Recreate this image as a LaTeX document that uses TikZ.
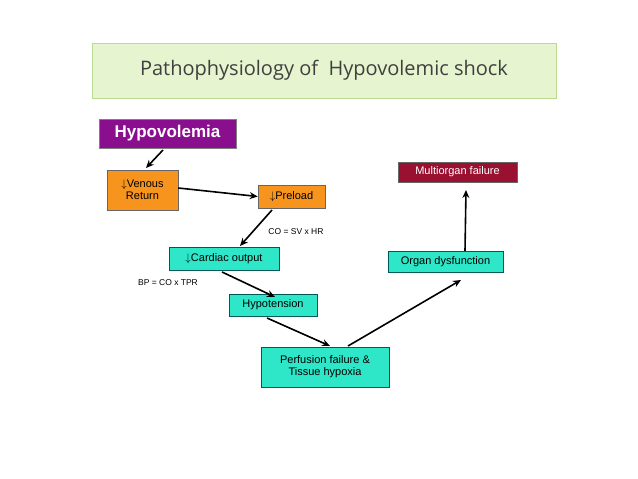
\documentclass[tikz,border=0pt]{standalone}
\usepackage{fontspec}
\setmainfont{Liberation Sans}
\newfontfamily\titlefont{Open Sans}
\usetikzlibrary{arrows.meta}
\definecolor{org}{HTML}{F7941D}
\definecolor{cyn}{HTML}{2EE6C8}
\definecolor{pur}{HTML}{8A0F8E}
\definecolor{mred}{HTML}{9A1030}
\definecolor{tgreen}{HTML}{E6F4CF}
\definecolor{tborder}{HTML}{B9DC8E}
\begin{document}
\begin{tikzpicture}[x=1pt,y=-1pt,
 box/.style={draw=black!60,line width=0.6pt,inner sep=0pt,font=\fontsize{11}{12}\selectfont,align=center},
 obox/.style={box,fill=org},
 cbox/.style={box,fill=cyn,draw=teal!70!black},
 arr/.style={-{Stealth[length=8pt,width=7pt]},line width=1.6pt},
 lbl/.style={font=\fontsize{8.5}{10}\selectfont}]
\useasboundingbox (0,0) rectangle (638,479);
\fill[white] (0,0) rectangle (638,479);
\node[draw=tborder,fill=tgreen,minimum width=464pt,minimum height=55pt,inner sep=0pt,
 font=\titlefont\fontsize{20}{24}\selectfont,text=black!75] (title) at (324,70.5) {Pathophysiology of\ \ Hypovolemic shock};
\node[box,fill=pur,text=white,draw=black!50,minimum width=137pt,minimum height=29pt,font=\bfseries\fontsize{17}{20}\selectfont] (hyp) at (167.5,133.5) {Hypovolemia};
\node[obox,minimum width=71pt,minimum height=40pt] (ven) at (142.5,190) {$\downarrow$Venous\\Return};
\node[obox,minimum width=67pt,minimum height=23pt] (pre) at (291.5,196.5) {$\downarrow$Preload};
\node[cbox,minimum width=110pt,minimum height=23pt] (co) at (224,258.5) {$\downarrow$Cardiac output};
\node[cbox,minimum width=88pt,minimum height=22pt] (hyt) at (273,305) {Hypotension};
\node[cbox,minimum width=128pt,minimum height=40pt] (perf) at (325,367) {Perfusion failure \&\\Tissue hypoxia};
\node[cbox,minimum width=115pt,minimum height=21pt] (od) at (445.5,261.5) {Organ dysfunction};
\node[box,fill=mred,text=white,minimum width=119pt,minimum height=20pt] (mof) at (457.5,172) {Multiorgan failure};
\node[lbl] (l1) at (296,232) {CO = SV x HR};
\node[lbl] (l2) at (168,283) {BP = CO x TPR};
\coordinate (a1) at (163,150); \coordinate (a2) at (146,168);
\draw[arr] (a1) -- (a2);
\draw[arr] (ven.east |- 0,188) -- (pre.west);
\coordinate (b1) at (272,210); \coordinate (b2) at (240,246);
\draw[arr] (b1) -- (b2);
\coordinate (c1) at (222,272); \coordinate (c2) at (275,297);
\draw[arr] (c1) -- (c2);
\coordinate (d1) at (267,318); \coordinate (d2) at (330,346);
\draw[arr] (d1) -- (d2);
\coordinate (e1) at (348,346); \coordinate (e2) at (461,280);
\draw[arr] (e1) -- (e2);
\coordinate (f1) at (465,251); \coordinate (f2) at (466,190);
\draw[arr] (f1) -- (f2);
\end{tikzpicture}
\end{document}
